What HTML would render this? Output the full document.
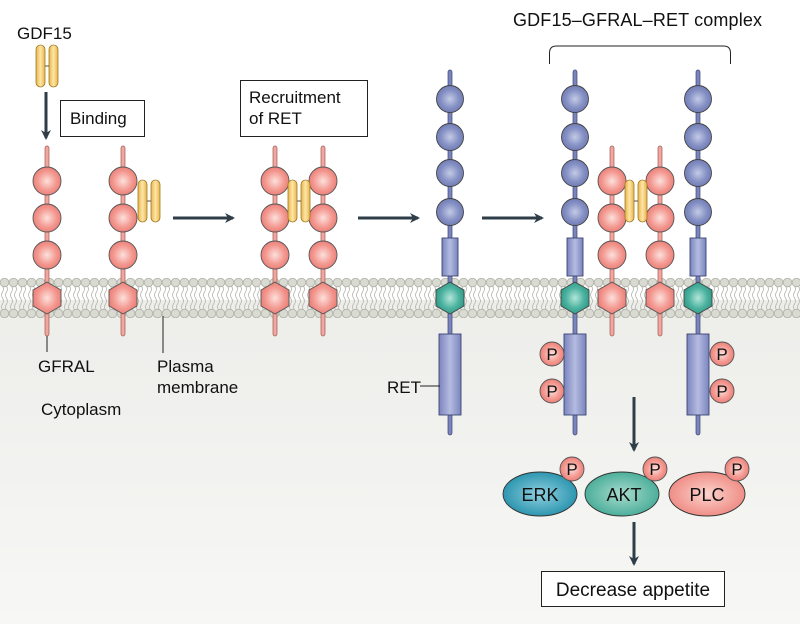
<!DOCTYPE html>
<html><head><meta charset="utf-8"><style>
html,body{margin:0;padding:0;background:#fff;}
svg{display:block;}
text{font-family:"Liberation Sans",sans-serif;fill:#111;}
</style></head><body>
<svg width="800" height="624" viewBox="0 0 800 624" xmlns="http://www.w3.org/2000/svg">
<defs>
<linearGradient id="bg" x1="0" y1="0" x2="0" y2="1"><stop offset="0" stop-color="#ededea"/><stop offset="1" stop-color="#f7f7f5"/></linearGradient>
<radialGradient id="pk" cx="0.5" cy="0.5" r="0.55"><stop offset="0" stop-color="#fde0dc"/><stop offset="0.6" stop-color="#f39a92"/><stop offset="1" stop-color="#e97a72"/></radialGradient>
<radialGradient id="bl" cx="0.5" cy="0.5" r="0.55"><stop offset="0" stop-color="#c3cbe6"/><stop offset="0.6" stop-color="#8590c4"/><stop offset="1" stop-color="#6c78b2"/></radialGradient>
<radialGradient id="tl" cx="0.5" cy="0.5" r="0.55"><stop offset="0" stop-color="#b4e6da"/><stop offset="0.6" stop-color="#4bb29f"/><stop offset="1" stop-color="#2f9985"/></radialGradient>
<linearGradient id="bar" x1="0" y1="0" x2="1" y2="0"><stop offset="0" stop-color="#7a84bd"/><stop offset="0.5" stop-color="#b4bce0"/><stop offset="1" stop-color="#7a84bd"/></linearGradient>
<linearGradient id="yl" x1="0" y1="0" x2="1" y2="0"><stop offset="0" stop-color="#eab44a"/><stop offset="0.5" stop-color="#fde6a8"/><stop offset="1" stop-color="#eab44a"/></linearGradient>
<radialGradient id="erk" cx="0.5" cy="0.5" r="0.6"><stop offset="0" stop-color="#8fd0e0"/><stop offset="1" stop-color="#1a8aa6"/></radialGradient>
<radialGradient id="akt" cx="0.5" cy="0.5" r="0.6"><stop offset="0" stop-color="#a8dccf"/><stop offset="1" stop-color="#3aa58f"/></radialGradient>
<radialGradient id="plc" cx="0.5" cy="0.5" r="0.6"><stop offset="0" stop-color="#fcd3cd"/><stop offset="1" stop-color="#ec8078"/></radialGradient>
<pattern id="beads" width="9" height="40" patternUnits="userSpaceOnUse" x="0" y="278">
<path d="M2.5 8 q2 3 0 6 q-2 3 0 6 q2 3 0 6 q-2 3 0 6 M6.5 8 q2 3 0 6 q-2 3 0 6 q2 3 0 6 q-2 3 0 6" fill="none" stroke="#b5b6ad" stroke-width="0.8"/>
<circle cx="4.5" cy="4.5" r="4.3" fill="#d9dad1" stroke="#b1b2a8" stroke-width="0.8"/>
<circle cx="4.5" cy="35.5" r="4.3" fill="#d9dad1" stroke="#b1b2a8" stroke-width="0.8"/>
</pattern>
<g id="pc"><circle r="14" fill="url(#pk)" stroke="#555" stroke-width="0.9"/></g>
<g id="bc"><circle r="13.5" fill="url(#bl)" stroke="#444" stroke-width="0.9"/></g>
<g id="ph"><polygon points="0,-16 14,-8 14,8 0,16 -14,8 -14,-8" fill="url(#pk)" stroke="#555" stroke-width="0.9"/></g>
<g id="th"><polygon points="0,-16 14,-8 14,8 0,16 -14,8 -14,-8" fill="url(#tl)" stroke="#444" stroke-width="0.9"/></g>
<g id="gd"><rect x="-11" y="-21" width="9" height="42" rx="4.5" fill="url(#yl)" stroke="#a07a20" stroke-width="0.8"/><rect x="2" y="-21" width="9" height="42" rx="4.5" fill="url(#yl)" stroke="#a07a20" stroke-width="0.8"/><line x1="-2" y1="0" x2="2" y2="0" stroke="#555"/></g>
<g id="gfral">
<rect x="-2" y="-152" width="4" height="190" rx="2" fill="#f2a69e" stroke="#9a5a55" stroke-width="0.7"/>
<use href="#pc" y="-117"/><use href="#pc" y="-80"/><use href="#pc" y="-43"/><use href="#ph" y="0"/>
</g>
<g id="ret">
<rect x="-2" y="-228" width="4" height="365" rx="2" fill="#7a84bd" stroke="#3b4470" stroke-width="0.7"/>
<use href="#bc" y="-199"/><use href="#bc" y="-161"/><use href="#bc" y="-125"/><use href="#bc" y="-86"/>
<rect x="-8" y="-60" width="16" height="38" fill="url(#bar)" stroke="#3b4470" stroke-width="0.9"/>
<use href="#th" y="0"/>
<rect x="-11" y="36" width="22" height="81" fill="url(#bar)" stroke="#3b4470" stroke-width="0.9"/>
</g>
<g id="P"><circle r="12" fill="url(#pk)" stroke="#555" stroke-width="0.9"/><text x="0" y="6" text-anchor="middle" font-size="17">P</text></g>
<marker id="ah" markerWidth="10" markerHeight="10" refX="8" refY="5" orient="auto" markerUnits="userSpaceOnUse"><path d="M0,0 L10,5 L0,10 L3,5z" fill="#2e3d48"/></marker>
</defs>
<rect x="0" y="300" width="800" height="324" fill="url(#bg)"/>
<rect x="0" y="278" width="800" height="40" fill="url(#beads)"/>

<text x="17" y="39" font-size="17">GDF15</text>
<use href="#gd" x="47" y="66"/>
<line x1="46" y1="92" x2="46" y2="138" stroke="#2e3d48" stroke-width="3" marker-end="url(#ah)"/>
<rect x="60.5" y="100.5" width="84" height="36" fill="#fff" stroke="#222"/>
<text x="70" y="124" font-size="17">Binding</text>

<use href="#gfral" x="47" y="298"/>
<use href="#gfral" x="123" y="298"/>
<use href="#gd" x="149" y="201"/>
<line x1="173" y1="218" x2="233" y2="218" stroke="#2e3d48" stroke-width="3" marker-end="url(#ah)"/>

<rect x="240.5" y="80.5" width="127" height="56" fill="#fff" stroke="#222"/>
<text x="249" y="103" font-size="17">Recruitment</text>
<text x="249" y="124" font-size="17">of RET</text>
<use href="#gfral" x="275" y="298"/>
<use href="#gfral" x="323" y="298"/>
<use href="#gd" x="299" y="201"/>
<line x1="358" y1="218" x2="418" y2="218" stroke="#2e3d48" stroke-width="3" marker-end="url(#ah)"/>

<use href="#ret" x="450" y="298"/>
<line x1="420" y1="386" x2="440" y2="386" stroke="#222"/>
<text x="387" y="393" font-size="17">RET</text>
<line x1="482" y1="218" x2="542" y2="218" stroke="#2e3d48" stroke-width="3" marker-end="url(#ah)"/>

<text x="513" y="26" font-size="18" textLength="249">GDF15–GFRAL–RET complex</text>
<path d="M549.5 64 v-11 q0-7 7-7 h167 q7 0 7 7 v11" fill="none" stroke="#222"/>
<use href="#ret" x="575" y="298"/>
<use href="#ret" x="698" y="298"/>
<use href="#gfral" x="612" y="298"/>
<use href="#gfral" x="660" y="298"/>
<use href="#gd" x="636" y="201"/>
<use href="#P" x="552" y="354"/><use href="#P" x="552" y="391"/>
<use href="#P" x="722" y="354"/><use href="#P" x="722" y="391"/>

<line x1="634" y1="397" x2="634" y2="450" stroke="#2e3d48" stroke-width="3" marker-end="url(#ah)"/>
<ellipse cx="540" cy="494" rx="37" ry="22" fill="url(#erk)" stroke="#333" stroke-width="0.9"/>
<ellipse cx="622" cy="494" rx="37" ry="22" fill="url(#akt)" stroke="#333" stroke-width="0.9"/>
<ellipse cx="707" cy="494" rx="38" ry="22" fill="url(#plc)" stroke="#333" stroke-width="0.9"/>
<text x="540" y="501" font-size="18" text-anchor="middle">ERK</text>
<text x="624" y="501" font-size="18" text-anchor="middle">AKT</text>
<text x="707" y="501" font-size="18" text-anchor="middle">PLC</text>
<use href="#P" x="572" y="469"/><use href="#P" x="655" y="469"/><use href="#P" x="737" y="469"/>
<line x1="634" y1="522" x2="634" y2="564" stroke="#2e3d48" stroke-width="3" marker-end="url(#ah)"/>
<rect x="541.5" y="571.5" width="183" height="35" fill="#fff" stroke="#222"/>
<text x="633" y="596" font-size="19" text-anchor="middle">Decrease appetite</text>

<line x1="47" y1="336" x2="47" y2="352" stroke="#222"/>
<text x="38" y="372" font-size="17">GFRAL</text>
<line x1="163" y1="316" x2="163" y2="353" stroke="#222"/>
<text x="157" y="372" font-size="17">Plasma</text>
<text x="157" y="393" font-size="17">membrane</text>
<text x="41" y="415" font-size="17">Cytoplasm</text>
</svg>
</body></html>
